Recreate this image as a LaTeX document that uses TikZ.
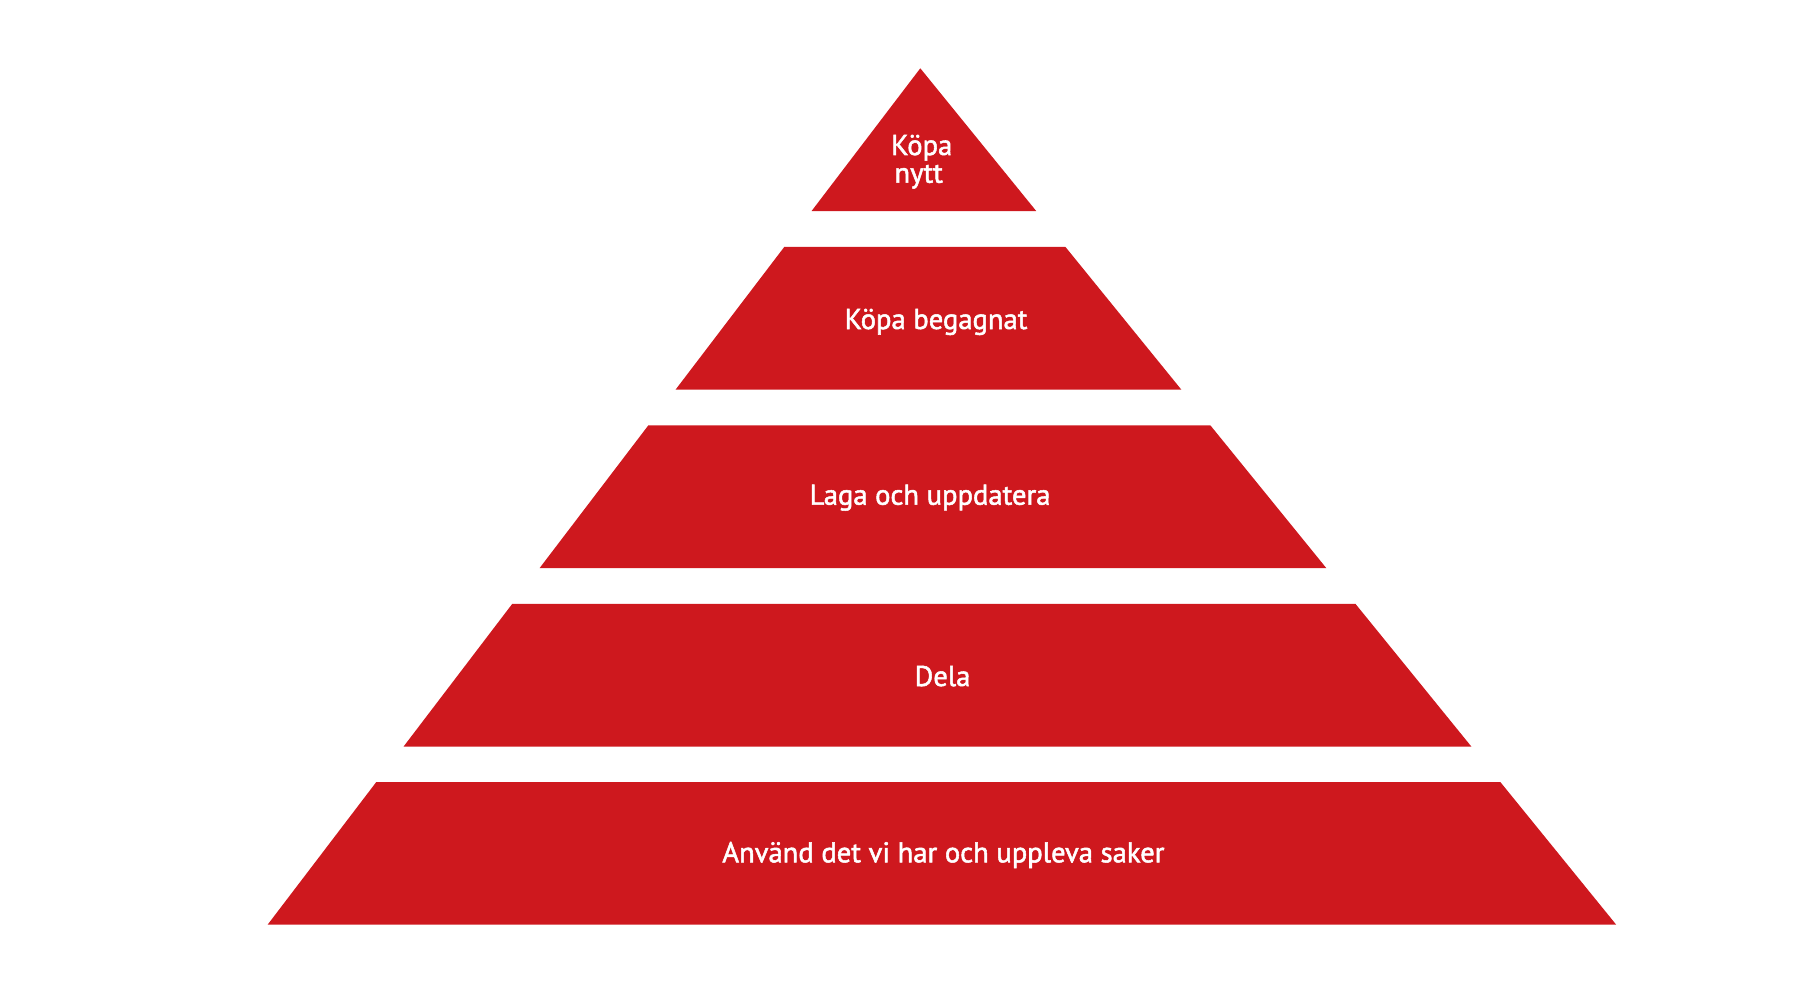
\documentclass[tikz,border=0pt]{standalone}
\usepackage{fontspec}
\newfontfamily\lblfont[FakeBold=1.8]{PT Sans}
\definecolor{pyrred}{RGB}{206,24,30}
\begin{document}
\begin{tikzpicture}[x=0.5pt,y=-0.5pt,
  tier/.style={fill=pyrred,draw=none},
  lbl/.style={text=white,font=\lblfont\fontsize{14.3pt}{13.85pt}\selectfont,anchor=base,inner sep=0pt,align=center}]
\useasboundingbox (0,0) rectangle (1815,1006);
% left edge: x = 920.3 - 0.762 (y-68.3); right edge: x = 920.3 + 0.8125 (y-68.3)
\fill[tier] (920.3,68.3) -- (1036.2,211) -- (811.6,211) -- cycle;
\fill[tier] (784.3,246.9) -- (1065.4,246.9) -- (1181.3,389.6) -- (675.6,389.6) -- cycle;
\fill[tier] (648.3,425.4) -- (1210.4,425.4) -- (1326.3,568.1) -- (539.6,568.1) -- cycle;
\fill[tier] (512.3,603.8) -- (1355.4,603.8) -- (1471.3,746.5) -- (403.6,746.5) -- cycle;
\fill[tier] (376.3,782) -- (1500.3,782) -- (1616.2,924.7) -- (267.6,924.7) -- cycle;
\node[lbl] (t1a) at (921.7,155) {Köpa};
\node[lbl] (t1b) at (918.7,182.7) {nytt};
\node[lbl] (t2) at (936,329) {Köpa begagnat};
\node[lbl] (t3) at (930,504.7) {Laga och uppdatera};
\node[lbl] (t4) at (942.5,686) {Dela};
\node[lbl] (t5) at (943.4,862.3) {Använd det vi har och uppleva saker};
\end{tikzpicture}
\end{document}
